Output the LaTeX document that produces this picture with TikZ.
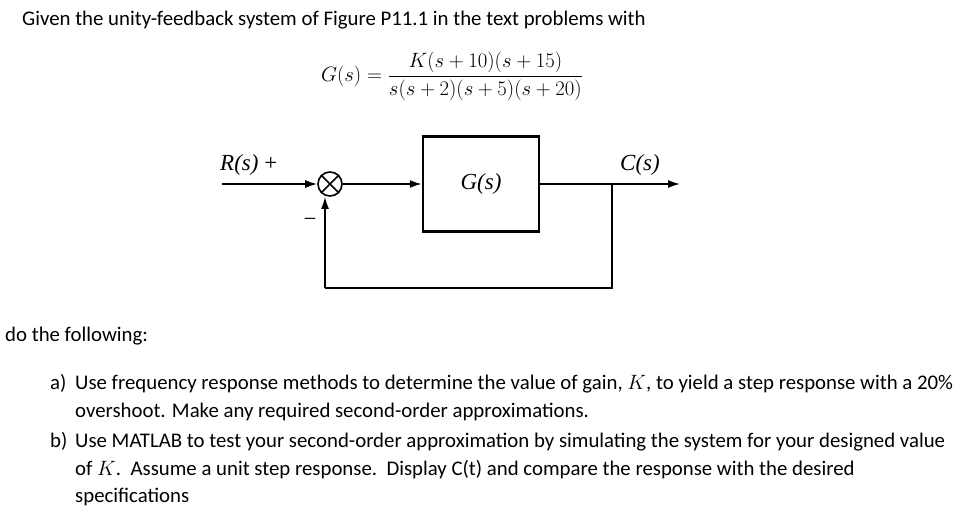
\documentclass[tikz,border=0pt]{standalone}
\usepackage{fontspec}
\setmainfont{Carlito}
\newfontfamily\tms{Liberation Serif}
\usetikzlibrary{arrows.meta}
\begin{document}
\begin{tikzpicture}[x=1pt,y=-1pt,
  txt/.style={anchor=base west,inner sep=0,font=\fontsize{20.8}{24}\selectfont},
  blk/.style={inner sep=0,font=\tms\fontsize{23}{26}\selectfont\itshape},
  sig/.style={line width=1.6pt,-{Latex[length=12pt,width=8pt]}},
  ln/.style={line width=1.6pt}]
\useasboundingbox (0,0) rectangle (970,512);
\node[txt] (t1) at (22,25) {Given the unity-feedback system of Figure P11.1 in the text problems with};
\node[inner sep=0,font=\fontsize{20.5}{24}\selectfont] (eq) at (452,76) {$\displaystyle G(s)=\frac{K(s+10)(s+15)}{s(s+2)(s+5)(s+20)}$};
% block diagram
\coordinate (rin) at (222,184);
\node[draw,circle,line width=1.6pt,minimum size=24pt,inner sep=0] (sum) at (330,184) {};
\draw[line width=1.6pt] (sum.north west)--(sum.south east) (sum.north east)--(sum.south west);
\node[draw,line width=2.5pt,minimum width=116pt,minimum height=95pt,blk] (g) at (481,184) {G(s)};
\coordinate (out) at (680,184);
\coordinate (tap) at (612,184);
\coordinate (fb1) at (612,288);
\coordinate (fb2) at (325,288);
\draw[sig] (rin)--(sum.west);
\draw[sig] (sum.east)--(g.west);
\draw[sig] (g.east)--(out);
\draw[ln] (tap)--(fb1)--(fb2);
\draw[sig] (fb2)--(sum.south-|fb2);
\node[blk,anchor=base west] (rl) at (220,170) {R(s) \upshape+};
\node[blk,anchor=base] (cl) at (640,170) {C(s)};
\node[blk,anchor=base] (mn) at (310,226) {\upshape−};
% text
\node[txt] (t2) at (5,341) {do the following:};
\node[txt] (a) at (50,389) {a)};
\node[txt] (a1) at (75,389) {Use frequency response methods to determine the value of gain, $K$, to yield a step response with a 20\%};
\node[txt] (a2) at (75,417) {overshoot. Make any required second-order approximations.};
\node[txt] (b) at (50,447) {b)};
\node[txt] (b1) at (75,447) {Use MATLAB to test your second-order approximation by simulating the system for your designed value};
\node[txt] (b2) at (75,475) {of $K$.\ \ Assume a unit step response.\ \ Display C(t) and compare the response with the desired};
\node[txt] (b3) at (75,502) {specifications};
\end{tikzpicture}
\end{document}
